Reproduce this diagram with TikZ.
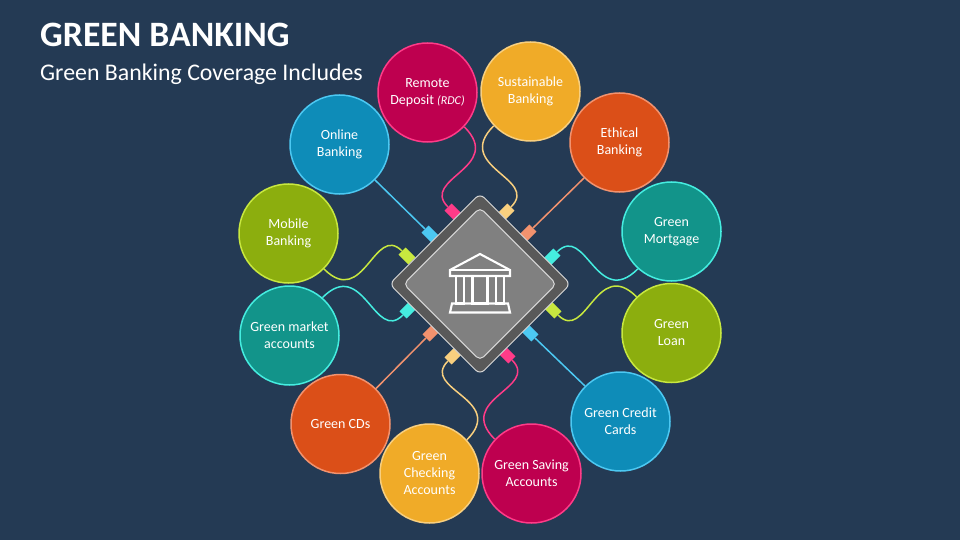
\documentclass[tikz,border=0pt]{standalone}
\usepackage{fontspec}
\setmainfont{Carlito}
\definecolor{slide}{HTML}{243A54}
\definecolor{crimsonF}{HTML}{BE004F}
\definecolor{crimsonL}{HTML}{FF3B88}
\definecolor{amberF}{HTML}{F0AB28}
\definecolor{amberL}{HTML}{F8CF7F}
\definecolor{rustF}{HTML}{DB4F18}
\definecolor{rustL}{HTML}{F2926E}
\definecolor{tealF}{HTML}{12948A}
\definecolor{tealL}{HTML}{45EDE0}
\definecolor{limeF}{HTML}{8CAE0E}
\definecolor{limeL}{HTML}{C8E83F}
\definecolor{skyF}{HTML}{0E8CB8}
\definecolor{skyL}{HTML}{4CC8F2}
\tikzset{
  bubble/.style n args={2}{circle,draw=#2,fill=#1,line width=1.5pt,minimum size=99pt,inner sep=0pt,
    text=white,align=center,font=\fontsize{14}{17}\selectfont},
  plug/.style={rectangle,fill=#1,minimum width=10pt,minimum height=14pt,inner sep=0pt},
  wire/.style={draw=#1,line width=1.5pt},
  swing/.style={out looseness=1.8,in looseness=1.25},
  title/.style={text=white,anchor=west,inner sep=0pt},
  icon/.style={draw=white,line width=2.1pt,line join=miter},
}
\begin{document}
\begin{tikzpicture}[x=1pt,y=-1pt]
  \useasboundingbox[fill=slide] (0,0) rectangle (960,540);

  \node[title,font=\fontsize{35.7}{40}\selectfont\bfseries] (head) at (40,35) {GREEN BANKING};
  \node[title,font=\fontsize{23.85}{28}\selectfont] (sub) at (40,74) {Green Banking Coverage Includes};

  % circles, clockwise from the top
  \node[bubble={crimsonF}{crimsonL}] (remote) at (427.5,92.5) {Remote\\Deposit \textit{\fontsize{12}{17}\selectfont(RDC)}};
  \node[bubble={amberF}{amberL}] (sustain) at (530.5,91.5) {Sustainable\\Banking};
  \node[bubble={rustF}{rustL}] (ethical) at (619.5,142.5) {Ethical\\Banking};
  \node[bubble={tealF}{tealL}] (mortgage) at (671.5,231.5) {Green\\Mortgage};
  \node[bubble={limeF}{limeL}] (loan) at (671.5,333) {Green\\Loan};
  \node[bubble={skyF}{skyL}] (credit) at (620.5,421.5) {Green Credit\\Cards};
  \node[bubble={crimsonF}{crimsonL}] (saving) at (531.5,473.5) {Green Saving\\Accounts};
  \node[bubble={amberF}{amberL}] (checking) at (429.5,473.5) {Green\\Checking\\Accounts};
  \node[bubble={rustF}{rustL}] (cds) at (340.5,424) {Green CDs};
  \node[bubble={tealF}{tealL}] (market) at (289.5,335.5) {Green market\\accounts};
  \node[bubble={limeF}{limeL}] (mobile) at (288.5,233.5) {Mobile\\Banking};
  \node[bubble={skyF}{skyL}] (online) at (339.5,144.5) {Online\\Banking};

  % plugs, north anchor always points away from the chip
  \node[plug=crimsonL,rotate=45] (premote) at (453,212) {};
  \node[plug=amberL,rotate=-45] (psustain) at (506,212) {};
  \node[plug=rustL,rotate=-45] (pethical) at (528,233) {};
  \node[plug=tealL,rotate=-45] (pmortgage) at (552,257) {};
  \node[plug=limeL,rotate=-135] (ploan) at (553,310) {};
  \node[plug=skyL,rotate=-135] (pcredit) at (530,333) {};
  \node[plug=crimsonL,rotate=-135] (psaving) at (507,355) {};
  \node[plug=amberL,rotate=135] (pchecking) at (453,356) {};
  \node[plug=rustL,rotate=135] (pcds) at (431,333) {};
  \node[plug=tealL,rotate=135] (pmarket) at (408,310) {};
  \node[plug=limeL,rotate=45] (pmobile) at (407,256) {};
  \node[plug=skyL,rotate=45] (ponline) at (430,234) {};

  \draw[wire=crimsonL] (remote.-43) to[out=-45,in=135,swing] (premote.north);
  \draw[wire=amberL] (sustain.-137) to[out=-135,in=45,swing] (psustain.north);
  \draw[wire=rustL] (ethical.-135) -- (pethical.north);
  \draw[wire=tealL] (mortgage.-132) to[out=-135,in=45,swing] (pmortgage.north);
  \draw[wire=limeL] (loan.134) to[out=135,in=-45,swing] (ploan.north);
  \draw[wire=skyL] (credit.135) -- (pcredit.north);
  \draw[wire=crimsonL] (saving.137) to[out=135,in=-45,swing] (psaving.north);
  \draw[wire=amberL] (checking.42) to[out=45,in=-135,swing] (pchecking.north);
  \draw[wire=rustL] (cds.45) -- (pcds.north);
  \draw[wire=tealL] (market.49) to[out=45,in=-135,swing] (pmarket.north);
  \draw[wire=limeL] (mobile.-45) to[out=-45,in=135,swing] (pmobile.north);
  \draw[wire=skyL] (online.-45) -- (ponline.north);

  % chip
  \node[rectangle,rotate=45,minimum size=128pt,rounded corners=6pt,draw=white!85!black,line width=1pt,fill=black!65] (chip) at (480,284) {};
  \node[rectangle,rotate=45,minimum size=108pt,rounded corners=5pt,draw=white!85!black,line width=1pt,fill=black!50] (core) at (480,284) {};

  % bank icon
  \draw[icon] (480,254) -- (510,270) -- (510,276) -- (450,276) -- (450,270) -- cycle;
  \draw[icon] (450,270) -- (510,270);
  \draw[icon] (456,276) rectangle (464,303.5);
  \draw[icon] (472.5,276) rectangle (487.5,303.5);
  \draw[icon] (496,276) rectangle (504,303.5);
  \draw[icon] (452,303.5) -- (508,303.5) -- (510,312.5) -- (450,312.5) -- cycle;
\end{tikzpicture}
\end{document}
